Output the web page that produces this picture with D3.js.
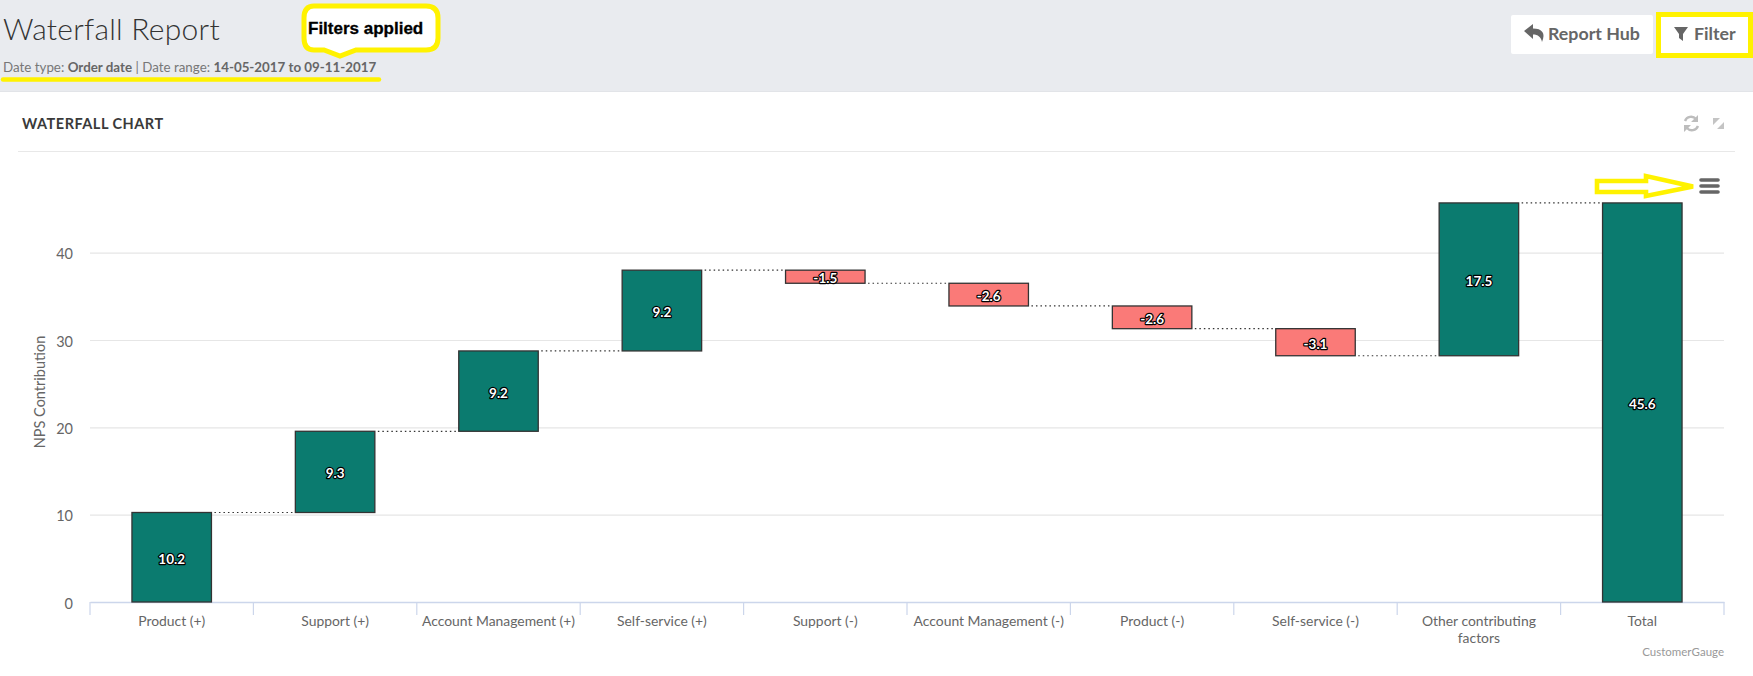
<!DOCTYPE html>
<html lang="en">
<head>
<meta charset="UTF-8">
<title>Waterfall Report</title>
<script src="https://cdn.jsdelivr.net/npm/d3@7"></script>
<style>
  html, body { margin: 0; padding: 0; background: #fff; overflow: hidden; }
  svg { display: block; font-family: Lato, "Open Sans", sans-serif; }
  .tick-label { fill: #666; }
  .bar-label { font-weight: 700; font-size: 13.5px; fill: #fff; stroke: #000; stroke-width: 2.4px; paint-order: stroke; stroke-linejoin: round; text-anchor: middle; }
</style>
</head>
<body>
<svg id="chart" width="1753" height="676"></svg>
<script>
var categories = ["Product (+)", "Support (+)", "Account Management (+)", "Self-service (+)", "Support (-)",
    "Account Management (-)", "Product (-)", "Self-service (-)", "Other contributing factors", "Total"];
var values = [10.25, 9.3, 9.2, 9.25, -1.5, -2.6, -2.6, -3.1, 17.5];
var valueLabels = ["10.2", "9.3", "9.2", "9.2", "-1.5", "-2.6", "-2.6", "-3.1", "17.5", "45.6"];
var yTicks = [0, 10, 20, 30, 40];

var svg = d3.select("#chart");

// page header
svg.append("rect").attr("width", 1753).attr("height", 91).attr("fill", "#e9ebef");
svg.append("line").attr("x1", 0).attr("x2", 1753).attr("y1", 91.5).attr("y2", 91.5).attr("stroke", "#e2e4e8");
svg.append("text").attr("x", 3).attr("y", 40).attr("font-size", 30).attr("font-weight", 300)
    .attr("letter-spacing", 0.25).attr("fill", "#333").text("Waterfall Report");

var sub = svg.append("text").attr("x", 3).attr("y", 72).attr("font-size", 13.35).attr("fill", "#777");
sub.append("tspan").text("Date type: ");
sub.append("tspan").attr("font-weight", 700).attr("fill", "#666").text("Order date");
sub.append("tspan").text(" | Date range: ");
sub.append("tspan").attr("font-weight", 700).attr("fill", "#666").text("14-05-2017 to 09-11-2017");

// yellow annotations
svg.append("line").attr("x1", 3).attr("x2", 379).attr("y1", 79.5).attr("y2", 79.5)
    .attr("stroke", "#fff200").attr("stroke-width", 4.5).attr("stroke-linecap", "round");
svg.append("path")
    .attr("d", "M314,6 H426 Q438,6 438,18 V38 Q438,50 426,50 H356 L340,56 L324,50 H314 Q304,50 304,38 V18 Q304,6 314,6 Z")
    .attr("fill", "#fff").attr("stroke", "#fff200").attr("stroke-width", 5);
svg.append("text").attr("x", 308).attr("y", 34).attr("font-family", "'Liberation Sans'").attr("font-weight", 700)
    .attr("font-size", 17).attr("fill", "#000").attr("stroke", "#000").attr("stroke-width", 0.3).text("Filters applied");

// buttons
svg.append("rect").attr("x", 1511).attr("y", 15).attr("width", 142).attr("height", 39).attr("rx", 2).attr("fill", "#fff");
svg.append("path").attr("fill", "#666")
    .attr("d", "M1524,31 L1533,24 V28.5 C1542,28.5 1546,33 1542,42 C1541,37 1538,34.5 1533,34.5 V39 Z");
svg.append("text").attr("x", 1548).attr("y", 40).attr("font-size", 17.8).attr("font-weight", 700)
    .attr("fill", "#666").text("Report Hub");

svg.append("rect").attr("x", 1658.5).attr("y", 14.5).attr("width", 92).attr("height", 41).attr("fill", "#fff")
    .attr("stroke", "#fff200").attr("stroke-width", 5);
svg.append("path").attr("fill", "#666").attr("d", "M1674,27 H1688 L1683,34 V41 L1679,38 V34 Z");
svg.append("text").attr("x", 1694).attr("y", 40).attr("font-size", 17.8).attr("font-weight", 700)
    .attr("fill", "#666").text("Filter");

// card title
svg.append("text").attr("x", 22).attr("y", 129).attr("font-size", 14.5).attr("font-weight", 700)
    .attr("letter-spacing", 0.5).attr("fill", "#3a3a3a").text("WATERFALL CHART");
svg.append("line").attr("x1", 18).attr("x2", 1735).attr("y1", 151.5).attr("y2", 151.5).attr("stroke", "#e8e8e8");

// refresh and expand icons
svg.append("path").attr("fill", "none").attr("stroke", "#bdbdbd").attr("stroke-width", 2.4)
    .attr("d", "M1685,121 A6.5,6.5 0 0 1 1696,119 M1698,126 A6.5,6.5 0 0 1 1687,128");
svg.append("path").attr("fill", "#bdbdbd").attr("d", "M1698,115 V122 H1691 Z M1684,132 V125 H1691 Z");
svg.append("path").attr("fill", "#c4c4c4").attr("d", "M1713,118 H1720 L1713,125 Z M1724,129 V122 L1717,129 Z");

// chart
var xLeft = 90, xRight = 1724;
var y0 = 602, yScaleTop = 252.7;

var x = d3.scaleBand().domain(categories).range([xLeft, xRight]);
var y = d3.scaleLinear().domain([0, 40]).range([y0, yScaleTop]);

var yAxis = svg.append("g").attr("transform", "translate(" + xLeft + ",0)")
    .call(d3.axisLeft(y).tickValues(yTicks).tickSize(-(xRight - xLeft)).tickPadding(17).tickFormat(d3.format("d")));
yAxis.select(".domain").remove();
yAxis.selectAll("line").attr("stroke", "#e6e6e6").attr("stroke-width", 1.2);
yAxis.selectAll("text").attr("class", "tick-label").attr("font-size", 14.5).attr("font-family", "Lato").attr("dy", "0.42em");

svg.append("text").attr("transform", "translate(45,392) rotate(-90)").attr("text-anchor", "middle")
    .attr("font-size", 14.5).attr("fill", "#666").text("NPS Contribution");

var xAxis = svg.append("g").attr("transform", "translate(0," + y0 + ")")
    .call(d3.axisBottom(x).tickSize(0).tickPadding(14));
xAxis.select(".domain").attr("stroke", "#ccd6eb").attr("stroke-width", 1.5);
xAxis.selectAll("text").attr("class", "tick-label").attr("font-size", 13.9).attr("font-family", "Lato")
    .each(function(d) {
        if (d !== "Other contributing factors") return;
        // long label wraps on two lines
        var t = d3.select(this).text(null);
        t.append("tspan").attr("x", 0).attr("dy", "0.71em").text("Other contributing");
        t.append("tspan").attr("x", 0).attr("dy", "1.25em").text("factors");
    });

// band edge ticks
svg.append("g").selectAll("line").data(categories.concat(["end"])).join("line")
    .attr("x1", function(d, i) { return xLeft + i * x.step(); })
    .attr("x2", function(d, i) { return xLeft + i * x.step(); })
    .attr("y1", y0).attr("y2", y0 + 13)
    .attr("stroke", "#ccd6eb").attr("stroke-width", 1.2);

// running totals for the floating bars
var running = 0;
var bars = values.map(function(v, i) {
    var start = running;
    running += v;
    return { name: categories[i], start: start, end: running, value: v, label: valueLabels[i] };
});
bars.push({ name: "Total", start: 0, end: running, value: running, label: valueLabels[9] });

var barWidth = 79.5;
function barX(d) { return x(d.name) + (x.bandwidth() - barWidth) / 2; }

svg.append("g").selectAll("line").data(bars.slice(0, -1)).join("line")
    .attr("x1", function(d) { return barX(d) + barWidth + 3; })
    .attr("x2", function(d) { return barX(d) + x.step() - 2; })
    .attr("y1", function(d) { return y(d.end); })
    .attr("y2", function(d) { return y(d.end); })
    .attr("stroke", "#333").attr("stroke-width", 1.2).attr("stroke-dasharray", "1.5,3");

svg.append("g").selectAll("rect").data(bars).join("rect")
    .attr("x", barX)
    .attr("width", barWidth)
    .attr("y", function(d) { return y(Math.max(d.start, d.end)); })
    .attr("height", function(d) { return Math.abs(y(d.start) - y(d.end)); })
    .attr("fill", function(d) { return d.value < 0 ? "#fa7a78" : "#0b7b6f"; })
    .attr("stroke", "#333").attr("stroke-width", 1.3);

svg.append("g").selectAll("text").data(bars).join("text")
    .attr("class", "bar-label")
    .attr("x", function(d) { return x(d.name) + x.bandwidth() / 2; })
    .attr("y", function(d) { return y((d.start + d.end) / 2) + 6.5; })
    .text(function(d) { return d.label; });

// hamburger menu and the arrow pointing at it
svg.append("g").selectAll("line").data([180, 186, 192]).join("line")
    .attr("x1", 1701).attr("x2", 1718).attr("y1", function(d) { return d; }).attr("y2", function(d) { return d; })
    .attr("stroke", "#666").attr("stroke-width", 3.6).attr("stroke-linecap", "round");
svg.append("path")
    .attr("d", "M1597,181 H1646 V176 L1693,186.5 L1646,196 V192 H1597 Z")
    .attr("fill", "#fff").attr("stroke", "#fff200").attr("stroke-width", 4.6);

svg.append("text").attr("x", xRight).attr("y", 656).attr("text-anchor", "end")
    .attr("font-size", 11.5).attr("fill", "#999").text("CustomerGauge");
</script>
</body>
</html>
